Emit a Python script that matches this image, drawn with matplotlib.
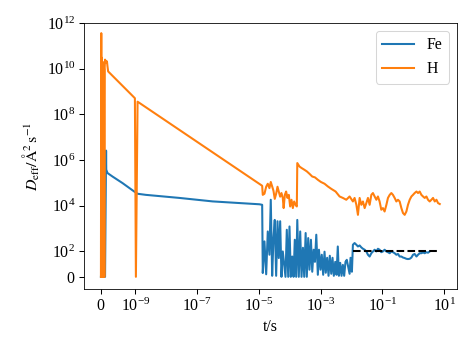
import matplotlib
matplotlib.use("Agg")
import matplotlib.pyplot as plt
from matplotlib.ticker import NullLocator

plt.rcParams['font.family'] = 'serif'
plt.rcParams['font.serif'] = ['Liberation Serif', 'DejaVu Serif']
plt.rcParams['mathtext.fontset'] = 'stix'
plt.rcParams['font.size'] = 15.5

# ---- Fe (blue) ----
fe_t = [0, 0.12e-9, 0.15e-9, 0.155e-9, 0.192e-9, 0.338e-9, 0.63e-9, 0.97e-9,
        1.19e-9, 2.2e-9, 2.7e-8, 3.2e-7, 1.05e-5, 1.29e-5,
        1.35e-5, 1.53e-5, 1.74e-5, 1.96e-5, 2.22e-5, 2.45e-5, 2.72e-5, 3.0e-5,
        3.3e-5, 3.66e-5, 4.05e-5, 4.46e-5, 4.94e-5, 5.44e-5, 6.0e-5, 6.67e-5,
        7.35e-5, 8.1e-5, 9.0e-5, 9.9e-5, 1.09e-4, 1.21e-4, 1.34e-4, 1.47e-4,
        1.63e-4, 1.77e-4, 1.98e-4, 2.2e-4, 2.43e-4, 2.7e-4, 2.97e-4, 3.3e-4,
        3.6e-4, 4.0e-4, 4.4e-4, 4.9e-4, 5.4e-4, 6.0e-4, 6.6e-4, 7.3e-4,
        8.2e-4, 8.9e-4, 1.0e-3, 1.1e-3, 1.22e-3, 1.35e-3, 1.48e-3, 1.64e-3,
        1.82e-3, 2.0e-3, 2.23e-3, 2.45e-3, 2.7e-3, 3.0e-3, 3.3e-3, 3.63e-3,
        3.94e-3, 4.35e-3, 4.8e-3, 5.3e-3, 5.84e-3, 6.44e-3, 7.1e-3, 7.8e-3,
        8.75e-3, 9.4e-3, 1.04e-2, 1.12e-2, 1.27e-2, 1.45e-2, 1.63e-2, 1.85e-2,
        2.10e-2, 2.37e-2, 2.69e-2, 3.05e-2, 3.44e-2, 3.9e-2, 4.43e-2, 4.99e-2,
        5.66e-2, 6.43e-2, 7.24e-2, 8.2e-2, 9.3e-2, 0.105, 0.119, 0.136, 0.153,
        0.174, 0.197, 0.222, 0.252, 0.286, 0.323, 0.366, 0.416, 0.469, 0.532,
        0.604, 0.681, 0.774, 0.879, 0.991, 1.12, 1.28, 1.44, 1.63, 1.85, 2.09,
        2.37, 2.69, 3.03, 3.44]
fe_d = [0, 0, 2.6e6, 3.8e5, 2.7e5, 1.9e5, 9.8e4, 4.2e4,
        3.35e4, 3.0e4, 2.2e4, 1.55e4, 1.16e4, 1.1e4,
        15, 275, 10, 750, 87, 1.83e4, 4, 385,
        2.4e3, 4, 2.1e3, 74, 2.1e3, 0, 100, 47,
        0, 890, 0, 1.24e3, 0, 80, 0, 325,
        0, 2.4e3, 0, 750, 0, 145, 0, 640,
        0, 385, 28, 325, 20, 119, 59, 540,
        8, 119, 28, 87, 8, 99, 16, 75,
        4, 83, 12, 75, 4, 59, 8, 165,
        4, 55, 4, 47, 4, 59, 67, 43,
        12, 75, 20, 196, 233, 196, 165, 183,
        150, 131, 119, 100, 87, 80, 93, 100,
        119, 100, 131, 119, 97, 100, 119, 100, 97,
        93, 100, 97, 93, 87, 90, 80, 80, 76, 74,
        71, 70, 71, 76, 87, 90, 80, 87, 93, 93, 96,
        93, 97, 95, 100]

# ---- H (orange) ----
h_t = [0, 0.01e-9, 0.02e-9, 0.03e-9, 0.04e-9, 0.05e-9, 0.06e-9, 0.07e-9,
       0.08e-9, 0.09e-9, 0.10e-9, 0.11e-9, 0.12e-9,
       0.155e-9, 0.175e-9, 0.19e-9, 0.21e-9, 0.99e-9, 1.05e-9, 1.19e-9,
       1.29e-5, 1.35e-5, 1.53e-5, 1.74e-5, 1.96e-5, 2.22e-5, 2.45e-5, 2.72e-5,
       3.0e-5, 3.3e-5, 3.66e-5, 4.05e-5, 4.46e-5, 4.94e-5, 5.44e-5, 6.0e-5,
       6.4e-5, 7.0e-5, 7.7e-5, 8.5e-5, 9.4e-5, 1.04e-4, 1.15e-4, 1.27e-4,
       1.4e-4, 1.55e-4, 1.71e-4, 1.77e-4, 2.09e-4, 2.43e-4, 2.97e-4, 3.6e-4,
       4.4e-4, 5.4e-4, 6.6e-4, 8.2e-4, 1.03e-3, 1.35e-3, 1.73e-3, 2.23e-3,
       3.08e-3, 4.15e-3, 5.3e-3, 6.84e-3, 8.75e-3, 1.12e-2, 1.27e-2, 1.45e-2,
       1.63e-2, 1.85e-2, 2.10e-2, 2.37e-2, 2.69e-2, 3.05e-2, 3.44e-2, 3.9e-2,
       4.43e-2, 4.99e-2, 5.66e-2, 6.43e-2, 7.24e-2, 8.2e-2, 9.3e-2, 0.105,
       0.119, 0.136, 0.153, 0.174, 0.197, 0.222, 0.252, 0.286, 0.323, 0.366,
       0.416, 0.469, 0.532, 0.604, 0.681, 0.774, 0.879, 0.991, 1.12, 1.28,
       1.44, 1.63, 1.85, 2.09, 2.37, 2.69, 3.03, 3.44, 3.91, 4.41, 5.01, 5.69,
       6.41, 7.28]
h_d = [0, 3.6e11, 0, 3e10, 0, 2e10, 0, 1.5e10,
       0, 1e10, 0, 1.2e10, 2.5e10,
       1.8e10, 2.1e10, 1.3e10, 7.6e9, 5.1e8, 0, 3.6e8,
       7.5e4, 3.0e4, 3.35e4, 6.8e4, 9.2e4, 5.9e4, 1.1e5, 7.0e4,
       4.5e4, 2.0e4, 3.35e4, 6.8e4, 4.1e4, 2.5e4, 3.6e4, 2.2e4,
       7.9e3, 3.0e4, 4.2e4, 2.2e4, 3.0e4, 9.3e3, 1.83e4, 7.9e3,
       1.54e4, 1.1e4, 9.3e3, 7.4e5, 5.2e5, 4.5e5, 3.8e5, 3.2e5,
       2.5e5, 1.9e5, 1.75e5, 1.37e5, 1.1e5, 9.2e4, 7.0e4, 5.5e4,
       4.2e4, 2.55e4, 2.2e4, 1.83e4, 2.55e4, 1.54e4, 2.2e4, 1.1e4,
       4.0e3, 2.2e4, 1.1e4, 1.54e4, 7.9e3, 1.31e4, 2.2e4, 1.1e4,
       3.0e4, 3.6e4, 2.55e4, 1.83e4, 2.55e4, 1.54e4, 6.7e3, 7.9e3,
       5.6e3, 1.1e4, 2.2e4, 3.0e4, 3.6e4, 3.0e4, 2.2e4, 1.54e4, 1.83e4, 1.54e4,
       7.9e3, 4.8e3, 4.0e3, 5.6e3, 1.1e4, 1.83e4, 2.55e4, 3.0e4, 3.6e4, 4.2e4,
       3.6e4, 4.2e4, 3.0e4, 2.55e4, 2.2e4, 2.55e4, 1.83e4, 1.54e4, 1.83e4, 2.2e4, 1.54e4, 1.83e4,
       1.31e4, 1.19e4]

# ---- reference (dashed) ----
ref_t = [1.1e-2, 7.28]
ref_d = [100, 100]

xticks = [0, 1e-9, 1e-7, 1e-5, 1e-3, 1e-1, 1e1]
yticks = [0, 1e2, 1e4, 1e6, 1e8, 1e10, 1e12]

fig = plt.figure(figsize=(474 / 74, 355 / 74), dpi=74)
ax = fig.add_axes([0.1772, 0.1859, 0.7863, 0.7493])

ax.plot(fe_t, fe_d, color='#1f77b4', lw=2.0, label='Fe')
ax.plot(h_t, h_d, color='#ff7f0e', lw=2.0, label='H')
ax.plot(ref_t, ref_d, color='black', lw=2.0, ls='--')

ax.set_xscale('symlog', linthresh=1e-9, linscale=1)
ax.set_yscale('symlog', linthresh=100, linscale=1)
ax.set_xticks(xticks)
ax.set_yticks(yticks)
ax.xaxis.set_minor_locator(NullLocator())
ax.yaxis.set_minor_locator(NullLocator())
ax.tick_params(length=5, width=1)
ax.set_ylim(top=1e12)

ax.set_xlabel('t/s')
ax.set_ylabel(r'$D_{\rm eff}/\mathrm{\AA}^2\,\mathrm{s}^{-1}$')
ax.legend(loc='upper right')

fig.savefig('out.png', dpi=74)
